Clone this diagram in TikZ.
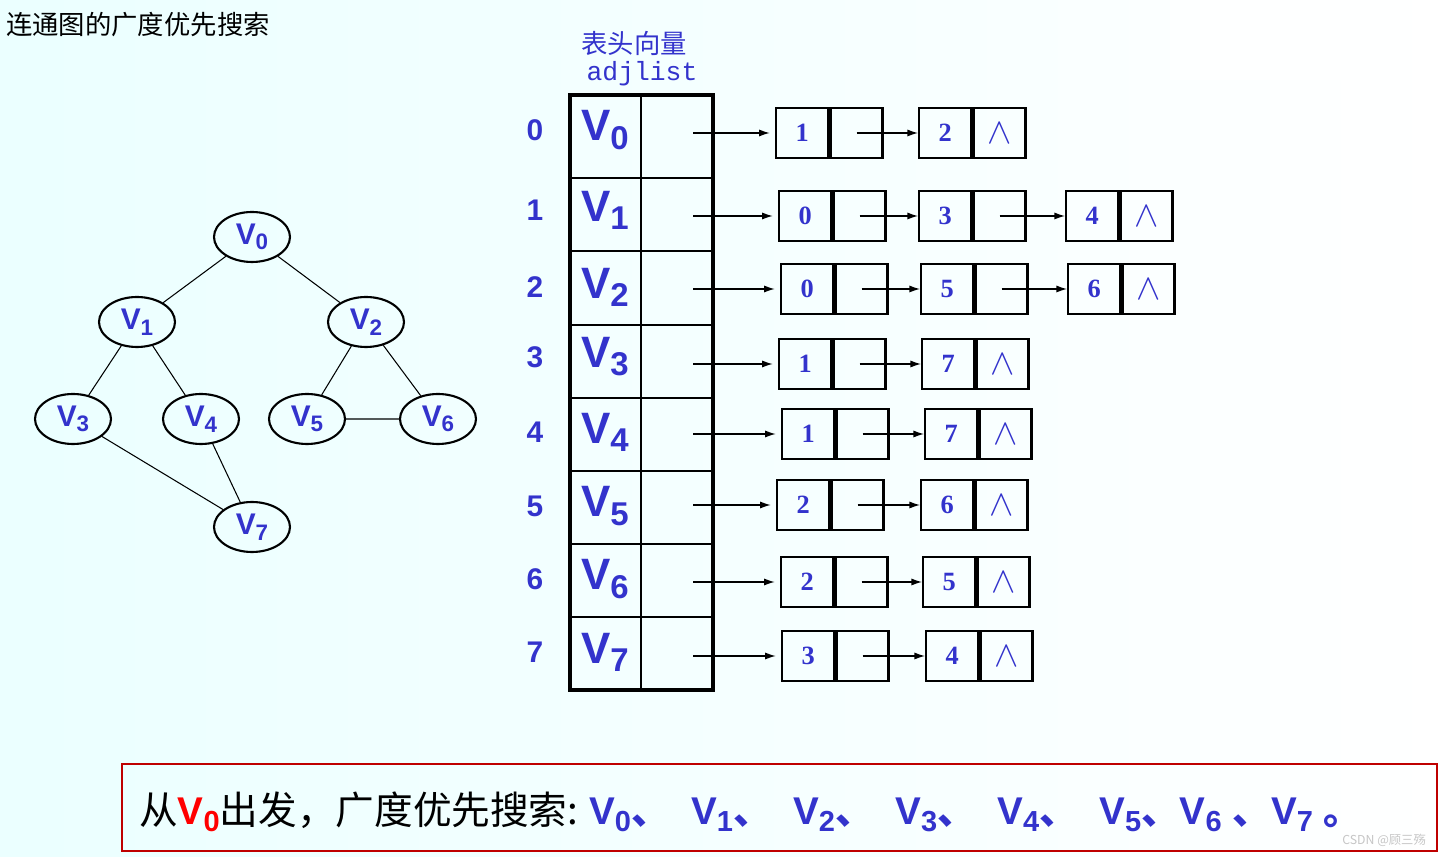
\documentclass[tikz,border=0pt]{standalone}
\usepackage{fontspec}
\setmainfont{Liberation Serif}
\setsansfont{Liberation Sans}
\setmonofont{Liberation Mono}
\newfontfamily\cjk{Noto Sans CJK SC}
\usetikzlibrary{shapes.geometric,arrows.meta}
\definecolor{vb}{RGB}{51,51,204}
\newcommand{\vs}[1]{V\raisebox{-0.35ex}{\scalebox{0.75}{#1}}}
\begin{document}
\begin{tikzpicture}[x=0.02cm,y=-0.02cm,
  gv/.style={ellipse,draw,line width=1.2pt,minimum width=76*0.02cm,minimum height=50*0.02cm,inner sep=0pt,font=\sffamily\bfseries\fontsize{17}{17}\selectfont,text=vb},
  ge/.style={line width=0.6pt},
  cellbox/.style={draw,line width=1.4pt,minimum width=52*0.02cm,minimum height=50*0.02cm,inner sep=0pt,anchor=west,font=\bfseries\fontsize{15}{15}\selectfont,text=vb},
  tv/.style={font=\sffamily\bfseries\fontsize{25}{25}\selectfont,text=vb},
  idx/.style={font=\sffamily\bfseries\fontsize{17}{17}\selectfont,text=vb},
  ar/.style={-{Latex[length=6pt,width=4pt]},line width=0.7pt}]
\useasboundingbox (0,0) rectangle (1447,857);
\shade[left color=cyan!8,right color=white] (0,0) rectangle (1447,857);
\fill[white,opacity=0.7] (1170,0) rectangle (1447,80);
\node[anchor=west,font=\cjk\fontsize{15}{15}\selectfont] (title) at (0,25) {连通图的广度优先搜索};
% graph
\node[gv] (g0) at (252,237) {\vs{0}};
\node[gv] (g1) at (137,322) {\vs{1}};
\node[gv] (g2) at (366,322) {\vs{2}};
\node[gv] (g3) at (73,419) {\vs{3}};
\node[gv] (g4) at (201,419) {\vs{4}};
\node[gv] (g5) at (307,419) {\vs{5}};
\node[gv] (g6) at (438,419) {\vs{6}};
\node[gv] (g7) at (252,527) {\vs{7}};
\draw[ge] (g0)--(g1) (g0)--(g2) (g1)--(g3) (g1)--(g4) (g2)--(g5) (g2)--(g6) (g5)--(g6) (g3)--(g7) (g4)--(g7);
% header
\node[text=vb,font=\cjk\fontsize{15}{15}\selectfont] (hd) at (634,43) {表头向量};
\node[text=vb,font=\ttfamily\fontsize{15}{15}\selectfont] (al) at (642,74) {adjlist};
% table
\draw[line width=1.8pt] (570,95) rectangle (713,690);
\draw[line width=1.2pt] (641,95)--(641,690);
\foreach \y in {178,251,325,398,471,544,617} \draw[line width=1.2pt] (570,\y)--(713,\y);
\foreach \i/\y in {0/130,1/210,2/287,3/357,4/432,5/506,6/579,7/652}{
  \node[tv] (t\i) at (605,\y) {\vs{\i}};
  \node[idx] (n\i) at (535,\y) {\i};
}
\coordinate (px) at (693,0);
\newcommand{\lbox}[5]{%
  \node[cellbox] (#1a) at (#2,#3) {#4};
  \node[cellbox,anchor=west,font=\fontsize{22}{22}\selectfont] (#1b) at (#1a.east) {\ifnum#5=1 $\wedge$\fi};
}
\lbox{a0}{775}{133}{1}{0}\lbox{b0}{918}{133}{2}{1}
\lbox{a1}{778}{216}{0}{0}\lbox{b1}{918}{216}{3}{0}\lbox{c1}{1065}{216}{4}{1}
\lbox{a2}{780}{289}{0}{0}\lbox{b2}{920}{289}{5}{0}\lbox{c2}{1067}{289}{6}{1}
\lbox{a3}{778}{364}{1}{0}\lbox{b3}{921}{364}{7}{1}
\lbox{a4}{781}{434}{1}{0}\lbox{b4}{924}{434}{7}{1}
\lbox{a5}{776}{505}{2}{0}\lbox{b5}{920}{505}{6}{1}
\lbox{a6}{780}{582}{2}{0}\lbox{b6}{922}{582}{5}{1}
\lbox{a7}{781}{656}{3}{0}\lbox{b7}{925}{656}{4}{1}
\foreach \i in {0,...,7}{
  \draw[ar] (px |- a\i a.west) -- ([xshift=-3pt]a\i a.west);
  \draw[ar] (a\i b.center) -- (b\i a.west);
}
\draw[ar] (b1b.center) -- (c1a.west);
\draw[ar] (b2b.center) -- (c2a.west);
% bottom
\draw[red!75!black,line width=0.8pt] (122,764) rectangle (1437,851);
\node[anchor=west,font=\cjk\fontsize{22}{22}\selectfont] (res) at (133,812) {从\textcolor{red}{\sffamily\bfseries\vs{0}}出发，广度优先搜索:\color{vb}\sffamily\bfseries\ \vs{0}{\cjk 、}\ \ \vs{1}{\cjk 、}\ \ \vs{2}{\cjk 、}\ \ \vs{3}{\cjk 、}\ \ \vs{4}{\cjk 、}\ \ \vs{5}{\cjk 、}\vs{6}\ {\cjk 、}\vs{7}\ {\cjk 。}};
\node[anchor=east,text=white!55!gray,font=\cjk\fontsize{7}{7}\selectfont] (wm) at (1432,840) {CSDN @顾三殇};
\end{tikzpicture}
\end{document}
